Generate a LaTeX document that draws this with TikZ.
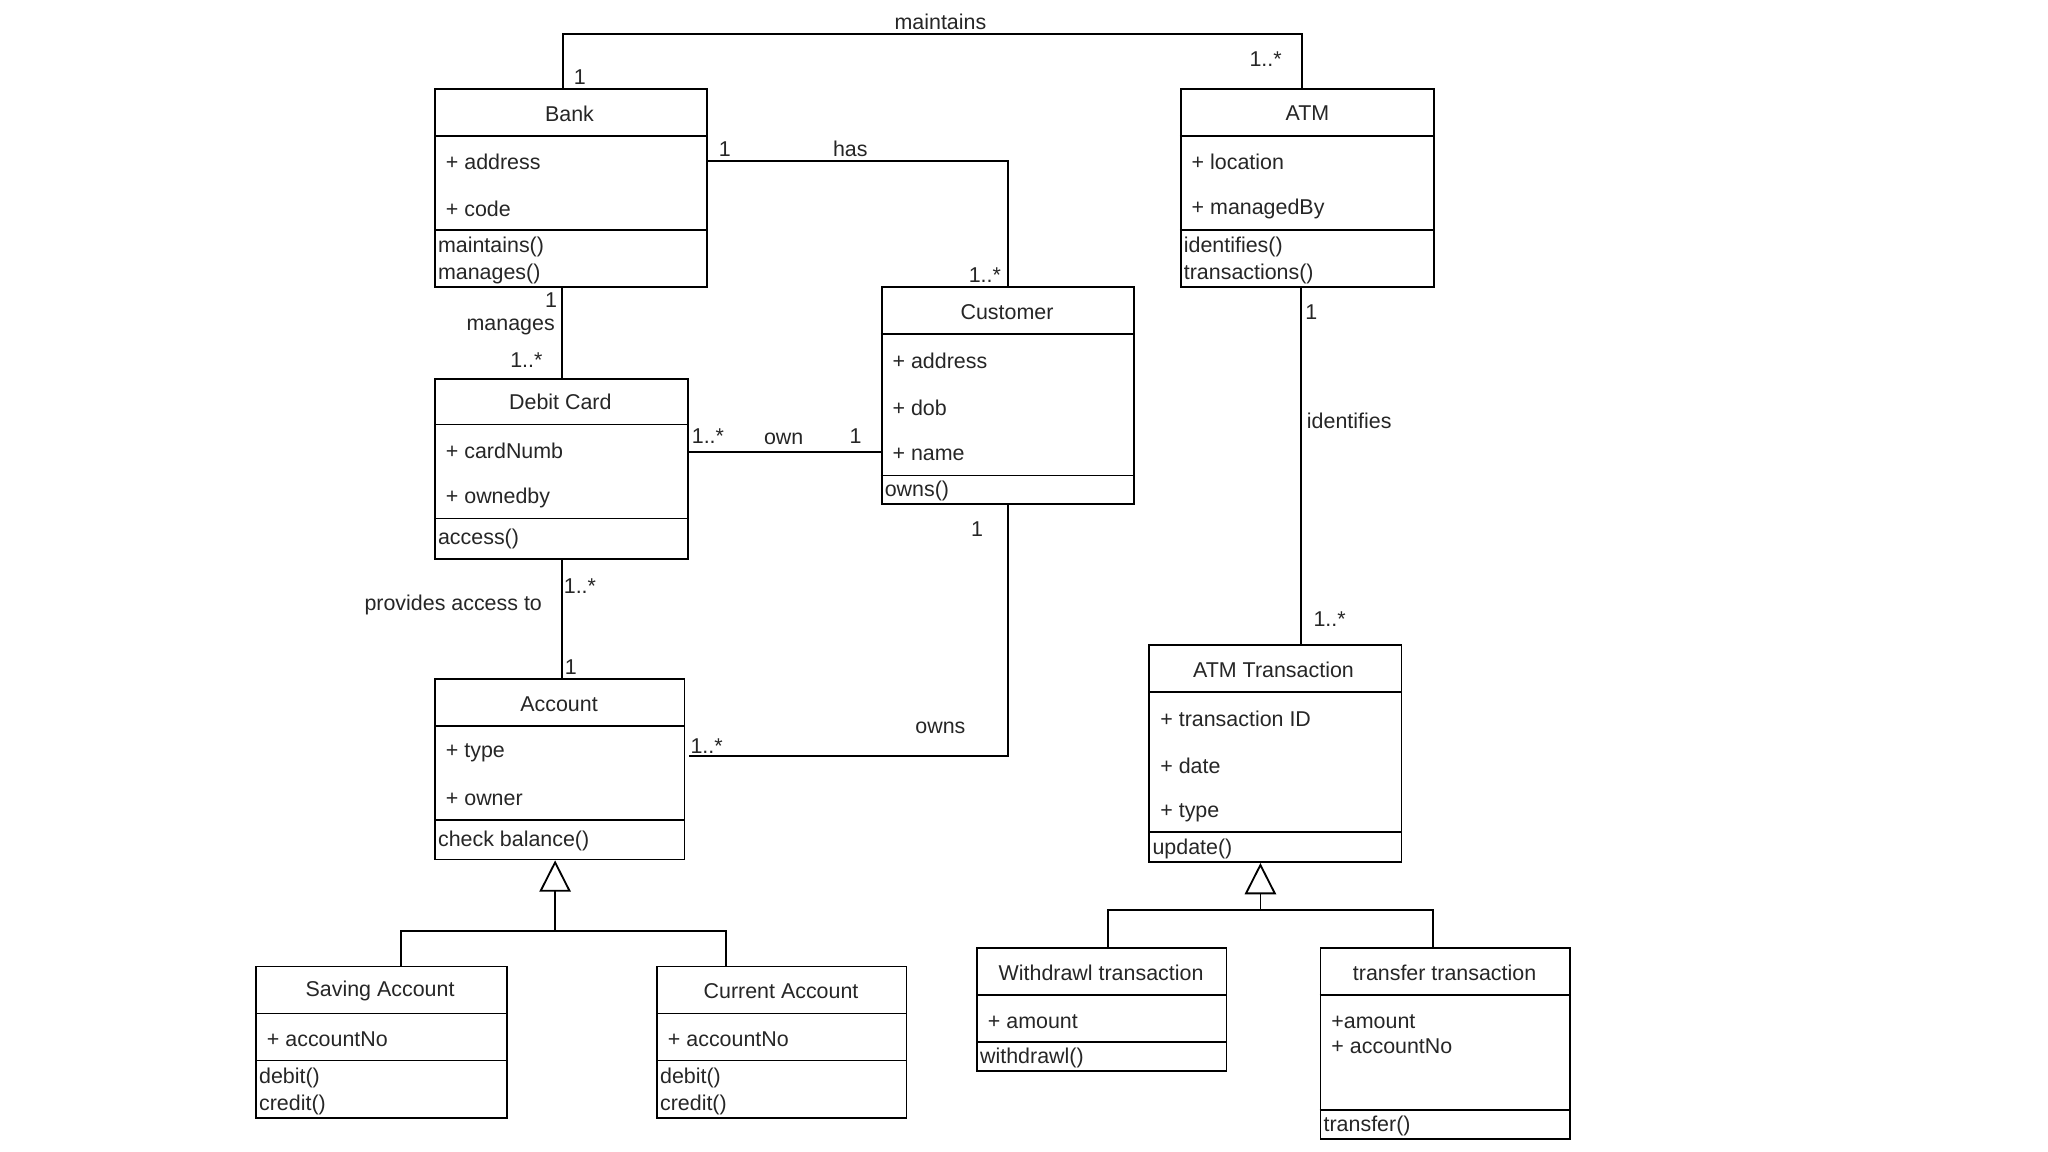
\documentclass[tikz,border=0pt]{standalone}
\usepackage{fontspec}
\setmainfont{Liberation Sans}
\usetikzlibrary{arrows.meta,fit}
\begin{document}
\begin{tikzpicture}[x=0.5pt,y=-0.5pt,
  cls/.style={draw, line width=0.7pt, inner sep=0pt},
  ln/.style={line width=0.7pt},
  txt/.style={inner sep=0pt, yshift=-1pt, font=\fontsize{8.2}{10}\selectfont, text=black!85},
  lt/.style={txt, anchor=west},
  gen/.style={ln, -{Triangle[open, length=12pt, width=12pt, line width=0.7pt]}}]
\useasboundingbox (0,0) rectangle (1568,882);
\fill[white] (0,0) rectangle (1568,882);

% ---------- Bank ----------
\node[cls, fit={(333,68) (541,220)}] (bank) {};
\draw[ln] (bank.west |- 0,104) -- (bank.east |- 0,104);
\draw[ln] (bank.west |- 0,176) -- (bank.east |- 0,176);
\node[txt] (bankT) at (436,85) {Bank};
\node[lt] (bankA1) at (341,122) {+ address};
\node[lt] (bankA2) at (341,158) {+ code};
\node[lt] (bankM1) at (335,187) {maintains()};
\node[lt] (bankM2) at (335,208) {manages()};

% ---------- ATM ----------
\node[cls, fit={(904,68) (1098,220)}] (atm) {};
\draw[ln] (atm.west |- 0,104) -- (atm.east |- 0,104);
\draw[ln] (atm.west |- 0,176) -- (atm.east |- 0,176);
\node[txt] (atmT) at (1001,85) {ATM};
\node[lt] (atmA1) at (912,122) {+ location};
\node[lt] (atmA2) at (912,158) {+ managedBy};
\node[lt] (atmM1) at (906,187) {identifies()};
\node[lt] (atmM2) at (906,208) {transactions()};

% ---------- Customer ----------
\node[cls, fit={(675,220) (868,386)}] (cust) {};
\draw[ln] (cust.west |- 0,256) -- (cust.east |- 0,256);
\draw[ln] (cust.west |- 0,364) -- (cust.east |- 0,364);
\node[txt] (custT) at (771,237) {Customer};
\node[lt] (custA1) at (683,274) {+ address};
\node[lt] (custA2) at (683,310) {+ dob};
\node[lt] (custA3) at (683,346) {+ name};
\node[lt] (custM1) at (677,374) {owns()};

% ---------- Debit Card ----------
\node[cls, fit={(333,290) (527,428)}] (debit) {};
\draw[ln] (debit.west |- 0,325) -- (debit.east |- 0,325);
\draw[ln] (debit.west |- 0,397) -- (debit.east |- 0,397);
\node[txt] (debitT) at (429,306) {Debit Card};
\node[lt] (debitA1) at (341,343) {+ cardNumb};
\node[lt] (debitA2) at (341,379) {+ ownedby};
\node[lt] (debitM1) at (335,411) {access()};

% ---------- Account ----------
\node[cls, fit={(333,520) (524,658)}] (acc) {};
\draw[ln] (acc.west |- 0,556) -- (acc.east |- 0,556);
\draw[ln] (acc.west |- 0,628) -- (acc.east |- 0,628);
\node[txt] (accT) at (428,537) {Account};
\node[lt] (accA1) at (341,574) {+ type};
\node[lt] (accA2) at (341,610) {+ owner};
\node[lt] (accM1) at (335,642) {check balance()};

% ---------- Saving Account ----------
\node[cls, fit={(196,740) (388,856)}] (sav) {};
\draw[ln] (sav.west |- 0,776) -- (sav.east |- 0,776);
\draw[ln] (sav.west |- 0,812) -- (sav.east |- 0,812);
\node[txt] (savT) at (291,757) {Saving Account};
\node[lt] (savA1) at (204,794) {+ accountNo};
\node[lt] (savM1) at (198,823) {debit()};
\node[lt] (savM2) at (198,844) {credit()};

% ---------- Current Account ----------
\node[cls, fit={(503,740) (694,856)}] (cur) {};
\draw[ln] (cur.west |- 0,776) -- (cur.east |- 0,776);
\draw[ln] (cur.west |- 0,812) -- (cur.east |- 0,812);
\node[txt] (curT) at (598,757) {Current Account};
\node[lt] (curA1) at (511,794) {+ accountNo};
\node[lt] (curM1) at (505,823) {debit()};
\node[lt] (curM2) at (505,844) {credit()};

% ---------- ATM Transaction ----------
\node[cls, fit={(880,494) (1073,660)}] (atmt) {};
\draw[ln] (atmt.west |- 0,530) -- (atmt.east |- 0,530);
\draw[ln] (atmt.west |- 0,637) -- (atmt.east |- 0,637);
\node[txt] (atmtT) at (975,511) {ATM Transaction};
\node[lt] (atmtA1) at (888,548) {+ transaction ID};
\node[lt] (atmtA2) at (888,584) {+ date};
\node[lt] (atmtA3) at (888,620) {+ type};
\node[lt] (atmtM1) at (882,648) {update()};

% ---------- Withdrawl transaction ----------
\node[cls, fit={(748,726) (939,820)}] (wd) {};
\draw[ln] (wd.west |- 0,762) -- (wd.east |- 0,762);
\draw[ln] (wd.west |- 0,798) -- (wd.east |- 0,798);
\node[txt] (wdT) at (843,743) {Withdrawl transaction};
\node[lt] (wdA1) at (756,780) {+ amount};
\node[lt] (wdM1) at (750,808) {withdrawl()};

% ---------- transfer transaction ----------
\node[cls, fit={(1011,726) (1202,872)}] (tr) {};
\draw[ln] (tr.west |- 0,762) -- (tr.east |- 0,762);
\draw[ln] (tr.west |- 0,850) -- (tr.east |- 0,850);
\node[txt] (trT) at (1106,743) {transfer transaction};
\node[lt] (trA1) at (1019,780) {+amount};
\node[lt] (trA2) at (1019,799) {+ accountNo};
\node[lt] (trM1) at (1013,860) {transfer()};

% ---------- Associations ----------
% maintains
\draw[ln] (bank.north -| 431,0) -- (431,26) -- (997,26) -- (atm.north -| 997,0);
\node[txt] (lMaint) at (720,15) {maintains};
\node[txt] (mMaint1) at (444,57) {1};
\node[txt] (mMaint2) at (969,43) {1..*};

% has
\draw[ln] (bank.east |- 0,123) -- (cust.north |- 0,123) -- (cust.north);
\node[txt] (mHas1) at (555,112) {1};
\node[txt] (lHas) at (651,112) {has};
\node[txt] (mHas2) at (754,209) {1..*};

% manages
\draw[ln] (debit.north |- bank.south) -- (debit.north);
\node[txt] (mMan1) at (422,228) {1};
\node[txt] (lMan) at (391,248) {manages};
\node[txt] (mMan2) at (403,274) {1..*};

% own
\draw[ln] (debit.east |- 0,346) -- (cust.west |- 0,346);
\node[txt] (mOwn1) at (542,332) {1..*};
\node[txt] (lOwn) at (600,334) {own};
\node[txt] (mOwn2) at (655,332) {1};

% provides access to
\draw[ln] (debit.south) -- (debit.south |- acc.north);
\node[txt] (mProv1) at (444,447) {1..*};
\node[txt] (lProv) at (347,461) {provides access to};
\node[txt] (mProv2) at (437,509) {1};

% owns
\draw[ln] (cust.south) |- ([xshift=1.5pt]acc.east |- 0,579);
\node[txt] (mOwns1) at (748,403) {1};
\node[txt] (lOwns) at (720,555) {owns};
\node[txt] (mOwns2) at (541,569) {1..*};

% identifies
\draw[ln] (atm.south -| 996,0) -- (atmt.north -| 996,0);
\node[txt] (mId1) at (1004,237) {1};
\node[txt] (lId) at (1033,320) {identifies};
\node[txt] (mId2) at (1018,472) {1..*};

% ---------- Generalizations ----------
\coordinate (accJ) at (425,713);
\draw[ln] (sav.north -| 307,0) |- (accJ) -| (cur.north -| 556,0);
\draw[gen] (accJ) -- (accJ |- acc.south);

\coordinate (trJ) at (965,697);
\draw[ln] (wd.north -| 848,0) |- (trJ) -| (tr.north -| 1097,0);
\draw[gen] (trJ) -- (trJ |- atmt.south);
\end{tikzpicture}
\end{document}
